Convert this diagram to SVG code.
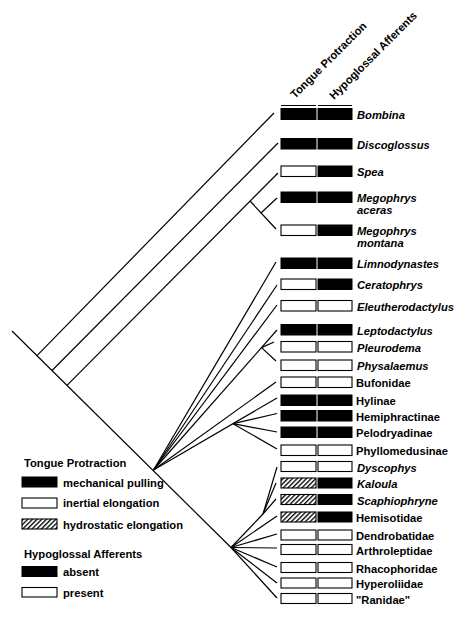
<svg xmlns="http://www.w3.org/2000/svg" width="466" height="617" viewBox="0 0 466 617">
<defs>
<pattern id="hatch" patternUnits="userSpaceOnUse" width="3.3" height="3.3" patternTransform="rotate(45)">
<rect width="3.3" height="3.3" fill="#fff"/>
<line x1="0.7" y1="0" x2="0.7" y2="3.3" stroke="#000" stroke-width="1.3"/>
</pattern>
</defs>
<style>
text{font-family:"Liberation Sans",Arial,sans-serif;font-size:11.2px;font-weight:bold;fill:#000}
.i{font-style:italic}
.b{fill:#000;stroke:#000;stroke-width:1}
.w{fill:#fff;stroke:#000;stroke-width:1.1}
.h{fill:url(#hatch);stroke:#000;stroke-width:1.1}
.tree line{stroke:#000;stroke-width:1.2;fill:none}
</style>
<rect width="466" height="617" fill="#fff"/>

<g id="header">
<text transform="translate(295,99) rotate(-45)">Tongue Protraction</text>
<text transform="translate(334,100) rotate(-45)">Hypoglossal Afferents</text>
<line x1="281" y1="105.5" x2="316" y2="105.5" stroke="#000" stroke-width="1.2"/>
<line x1="318" y1="105.5" x2="352" y2="105.5" stroke="#000" stroke-width="1.2"/>
</g>

<g id="connectors" class="tree">
<line x1="12" y1="331" x2="231" y2="547.5"/>
<line x1="37" y1="355.7" x2="274" y2="113"/>
<line x1="52" y1="370.5" x2="278" y2="143"/>
<line x1="67" y1="385.4" x2="278" y2="173"/>
<line x1="250" y1="201" x2="276" y2="229"/>
<line x1="261" y1="213" x2="277" y2="198"/>
<line x1="153.5" y1="470" x2="276" y2="262"/>
<line x1="153.5" y1="470" x2="277" y2="285"/>
<line x1="153.5" y1="470" x2="277" y2="305"/>
<line x1="153.5" y1="470" x2="277" y2="330"/>
<line x1="261.5" y1="347.6" x2="274" y2="342"/>
<line x1="261.5" y1="347.6" x2="276" y2="361"/>
<line x1="153.5" y1="470" x2="276" y2="382"/>
<line x1="153.5" y1="470" x2="277" y2="398"/>
<line x1="233" y1="423.7" x2="277" y2="413.5"/>
<line x1="233" y1="423.7" x2="277" y2="432"/>
<line x1="233" y1="423.7" x2="277" y2="449"/>
<line x1="231" y1="547.5" x2="263" y2="514"/>
<line x1="263" y1="514" x2="277" y2="467"/>
<line x1="263" y1="514" x2="276" y2="483"/>
<line x1="263" y1="514" x2="276" y2="499"/>
<line x1="231" y1="547.5" x2="277" y2="516"/>
<line x1="231" y1="547.5" x2="277" y2="534"/>
<line x1="231" y1="547.5" x2="277" y2="548"/>
<line x1="231" y1="547.5" x2="277" y2="567"/>
<line x1="231" y1="547.5" x2="277" y2="583"/>
<line x1="231" y1="547.5" x2="277" y2="598"/>
</g>

<g id="bombina"><rect class="b" x="281" y="108.5" width="35" height="11"/><rect class="b" x="318" y="108.5" width="34" height="11"/><text class="i" x="357" y="119">Bombina</text></g>
<g id="discoglossus"><rect class="b" x="281" y="138.5" width="35" height="10.5"/><rect class="b" x="318" y="138.5" width="34" height="10.5"/><text class="i" x="357" y="148.5">Discoglossus</text></g>
<g id="spea"><rect class="w" x="281" y="166" width="35" height="10.5"/><rect class="b" x="318" y="166" width="34" height="10.5"/><text class="i" x="357" y="176">Spea</text></g>
<g id="megophrys-aceras"><rect class="b" x="281" y="192" width="35" height="10.5"/><rect class="b" x="318" y="192" width="34" height="10.5"/><text class="i" x="357" y="202">Megophrys</text><text class="i" x="357" y="214">aceras</text></g>
<g id="megophrys-montana"><rect class="w" x="281" y="225" width="35" height="10.5"/><rect class="b" x="318" y="225" width="34" height="10.5"/><text class="i" x="357" y="235">Megophrys</text><text class="i" x="357" y="247">montana</text></g>
<g id="limnodynastes"><rect class="b" x="281" y="258" width="35" height="10.5"/><rect class="b" x="318" y="258" width="34" height="10.5"/><text class="i" x="357" y="268">Limnodynastes</text></g>
<g id="ceratophrys"><rect class="w" x="281" y="279" width="35" height="10.5"/><rect class="b" x="318" y="279" width="34" height="10.5"/><text class="i" x="357" y="289">Ceratophrys</text></g>
<g id="eleutherodactylus"><rect class="w" x="281" y="300.5" width="35" height="10.5"/><rect class="w" x="318" y="300.5" width="34" height="10.5"/><text class="i" x="357" y="310.5">Eleutherodactylus</text></g>
<g id="leptodactylus"><rect class="b" x="281" y="324.5" width="35" height="10.5"/><rect class="b" x="318" y="324.5" width="34" height="10.5"/><text class="i" x="357" y="334.5">Leptodactylus</text></g>
<g id="pleurodema"><rect class="w" x="281" y="341.5" width="35" height="10.5"/><rect class="w" x="318" y="341.5" width="34" height="10.5"/><text class="i" x="357" y="351.5">Pleurodema</text></g>
<g id="physalaemus"><rect class="w" x="281" y="360" width="35" height="10.5"/><rect class="w" x="318" y="360" width="34" height="10.5"/><text class="i" x="357" y="370">Physalaemus</text></g>
<g id="bufonidae"><rect class="w" x="281" y="377" width="35" height="10.5"/><rect class="w" x="318" y="377" width="34" height="10.5"/><text x="356" y="387">Bufonidae</text></g>
<g id="hylinae"><rect class="b" x="281" y="395" width="35" height="10.5"/><rect class="b" x="318" y="395" width="34" height="10.5"/><text x="356" y="405">Hylinae</text></g>
<g id="hemiphractinae"><rect class="b" x="281" y="410.5" width="35" height="10.5"/><rect class="b" x="318" y="410.5" width="34" height="10.5"/><text x="356" y="420.5">Hemiphractinae</text></g>
<g id="pelodryadinae"><rect class="b" x="281" y="427" width="35" height="10.5"/><rect class="b" x="318" y="427" width="34" height="10.5"/><text x="356" y="437">Pelodryadinae</text></g>
<g id="phyllomedusinae"><rect class="w" x="281" y="445" width="35" height="10.5"/><rect class="w" x="318" y="445" width="34" height="10.5"/><text x="356" y="455">Phyllomedusinae</text></g>
<g id="dyscophys"><rect class="w" x="281" y="461.5" width="35" height="10"/><rect class="w" x="318" y="461.5" width="34" height="10"/><text class="i" x="357" y="471.5">Dyscophys</text></g>
<g id="kaloula"><rect class="h" x="281" y="478" width="35" height="10"/><rect class="b" x="318" y="478" width="34" height="10"/><text class="i" x="357" y="488">Kaloula</text></g>
<g id="scaphiophryne"><rect class="h" x="281" y="494.5" width="35" height="10"/><rect class="b" x="318" y="494.5" width="34" height="10"/><text class="i" x="357" y="504.5">Scaphiophryne</text></g>
<g id="hemisotidae"><rect class="h" x="281" y="512" width="35" height="10"/><rect class="b" x="318" y="512" width="34" height="10"/><text x="356" y="522">Hemisotidae</text></g>
<g id="dendrobatidae"><rect class="w" x="281" y="530" width="35" height="10"/><rect class="w" x="318" y="530" width="34" height="10"/><text x="356" y="540">Dendrobatidae</text></g>
<g id="arthroleptidae"><rect class="w" x="281" y="544.5" width="35" height="10"/><rect class="w" x="318" y="544.5" width="34" height="10"/><text x="356" y="554.5">Arthroleptidae</text></g>
<g id="rhacophoridae"><rect class="w" x="281" y="562.5" width="35" height="10"/><rect class="w" x="318" y="562.5" width="34" height="10"/><text x="356" y="572.5">Rhacophoridae</text></g>
<g id="hyperoliidae"><rect class="w" x="281" y="578" width="35" height="10"/><rect class="w" x="318" y="578" width="34" height="10"/><text x="356" y="588">Hyperoliidae</text></g>
<g id="ranidae"><rect class="w" x="281" y="593.5" width="35" height="10"/><rect class="w" x="318" y="593.5" width="34" height="10"/><text x="356" y="603.5">"Ranidae"</text></g>

<g id="legend">
<text x="24" y="466.5">Tongue Protraction</text>
<rect class="b" x="22" y="477" width="35" height="10"/><text x="63" y="486.5">mechanical pulling</text>
<rect class="w" x="22" y="498" width="35" height="10"/><text x="63" y="507">inertial elongation</text>
<rect class="h" x="22" y="519" width="35" height="10"/><text x="63" y="528.5">hydrostatic elongation</text>
<text x="24" y="557.5">Hypoglossal Afferents</text>
<rect class="b" x="22" y="566.5" width="35" height="10"/><text x="63" y="576">absent</text>
<rect class="w" x="22" y="587.5" width="35" height="9.5"/><text x="63" y="596.5">present</text>
</g>
</svg>
